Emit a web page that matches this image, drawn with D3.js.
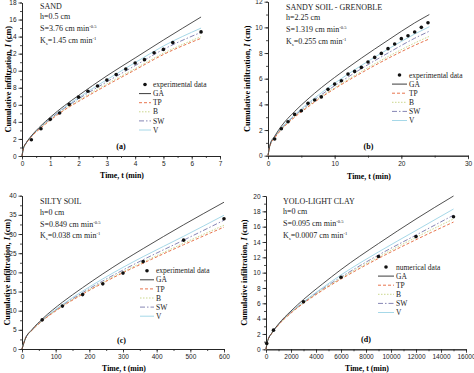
<!DOCTYPE html>
<html>
<head>
<meta charset="utf-8">
<script src="https://cdnjs.cloudflare.com/ajax/libs/d3/7.8.5/d3.min.js"></script>
<style>
body { margin: 0; background: #fff; }
svg { display: block; }
</style>
</head>
<body>
<div id="chart"></div>
<script>
var seriesNames = ["GA", "TP", "B", "SW", "V"];

// (a) sand
var aObsT = [0.33, 0.67, 1, 1.33, 1.67, 2, 2.33, 2.67, 3, 3.33, 3.67, 4, 4.33, 4.67, 5, 5.33, 6.33];
var aObsI = [1.9, 3.2, 4.3, 5.05, 6.05, 6.9, 7.6, 8.2, 8.9, 9.55, 10.2, 10.9, 11.3, 12.1, 12.5, 13.3, 14.55];
var aT  = [0, 0.05, 0.15, 0.33, 0.67, 1, 1.5, 2, 3, 4, 5, 6.33];
var aGA = [0, 0.9, 1.55, 2.35, 3.55, 4.55, 5.9, 7.1, 9.4, 11.5, 13.6, 16.3];
var aTP = [0, 0.85, 1.5, 2.25, 3.3, 4.2, 5.4, 6.4, 8.3, 10.1, 11.9, 13.8];
var aB  = [0, 0.85, 1.5, 2.27, 3.35, 4.25, 5.45, 6.5, 8.45, 10.25, 12.05, 14.0];
var aSW = [0, 0.86, 1.52, 2.3, 3.4, 4.35, 5.6, 6.7, 8.7, 10.6, 12.5, 14.5];
var aV  = [0, 0.87, 1.53, 2.32, 3.45, 4.4, 5.7, 6.85, 8.95, 10.95, 12.9, 15.0];

// (b) sandy soil - Grenoble
var bObsT = [1, 2, 3, 4, 5, 6, 7, 8, 9, 10, 11, 12, 13, 14, 15, 16, 17, 18, 19, 20, 21, 22, 23, 24];
var bObsI = [1.3, 2.1, 2.65, 3.22, 3.5, 4.08, 4.34, 4.58, 5.17, 5.58, 5.84, 6.36, 6.57, 6.88, 7.3, 7.66, 7.97, 8.34, 8.7, 9.12, 9.35, 9.64, 10.0, 10.36];
var bT  = [0, 0.3, 1, 2, 4, 6, 8, 10, 14, 18, 22, 24.2];
var bGA = [0, 0.85, 1.52, 2.3, 3.45, 4.42, 5.3, 6.1, 7.6, 9.0, 10.35, 11.0];
var bTP = [0, 0.78, 1.38, 2.03, 3.0, 3.8, 4.55, 5.22, 6.45, 7.58, 8.6, 9.1];
var bB  = [0, 0.79, 1.4, 2.06, 3.04, 3.86, 4.62, 5.3, 6.56, 7.72, 8.78, 9.3];
var bSW = [0, 0.8, 1.43, 2.1, 3.12, 3.96, 4.75, 5.45, 6.78, 8.0, 9.15, 9.7];
var bV  = [0, 0.82, 1.46, 2.15, 3.2, 4.08, 4.9, 5.65, 7.03, 8.3, 9.48, 10.05];

// (c) silty soil
var cObsT = [60, 120, 180, 240, 300, 360, 480, 600];
var cObsI = [7.6, 11.2, 14.2, 17.0, 19.8, 22.8, 28.4, 34.0];
var cT  = [0, 10, 30, 60, 120, 180, 240, 300, 360, 480, 600];
var cGA = [0, 2.7, 5.1, 7.8, 12.2, 16.0, 19.6, 23.0, 26.2, 32.4, 38.3];
var cTP = [0, 2.7, 4.9, 7.3, 11.1, 14.3, 17.2, 19.9, 22.4, 27.2, 31.8];
var cB  = [0, 2.7, 4.9, 7.35, 11.2, 14.45, 17.4, 20.15, 22.7, 27.6, 32.3];
var cSW = [0, 2.7, 4.95, 7.4, 11.35, 14.7, 17.75, 20.6, 23.3, 28.4, 33.6];
var cV  = [0, 2.7, 5.0, 7.5, 11.6, 15.1, 18.3, 21.3, 24.1, 29.4, 34.9];

// (d) Yolo light clay
var dObsT = [60, 600, 3000, 6000, 9000, 12000, 15000];
var dObsI = [0.75, 2.5, 6.2, 9.4, 12.1, 14.7, 17.3];
var dT  = [0, 100, 500, 1000, 2000, 3000, 4500, 6000, 9000, 12000, 15000];
var dGA = [0, 0.9, 2.2, 3.3, 5.0, 6.5, 8.5, 10.4, 13.8, 17.0, 20.0];
var dTP = [0, 0.92, 2.17, 3.18, 4.73, 6.0, 7.67, 9.16, 11.86, 14.3, 16.6];
var dB  = [0, 0.92, 2.18, 3.2, 4.77, 6.05, 7.75, 9.28, 12.05, 14.6, 17.0];
var dSW = [0, 0.93, 2.2, 3.22, 4.8, 6.1, 7.85, 9.42, 12.3, 14.9, 17.5];
var dV  = [0, 0.93, 2.2, 3.25, 4.85, 6.2, 8.0, 9.7, 12.7, 15.5, 18.3];

var styles = {
    GA: { color: "#3c3c3c", dash: null },
    TP: { color: "#e8744e", dash: "3,2" },
    B:  { color: "#cbd88e", dash: "1.5,1.5" },
    SW: { color: "#8686b4", dash: "5,2,1.5,2" },
    V:  { color: "#a6d8e8", dash: null }
};

var serif = "'Liberation Serif', 'Times New Roman', serif";
var sans = "'Liberation Sans', Arial, sans-serif";

var svg = d3.select("#chart").append("svg").attr("width", 474).attr("height", 373);

var panels = [
    { t: aT, curves: { GA: aGA, TP: aTP, B: aB, SW: aSW, V: aV }, obsT: aObsT, obsI: aObsI,
      xDomain: [0, 7], xRange: [22, 220], yDomain: [0, 18], yRange: [156, 2.5],
      xStep: 1, xMinor: 0.5, yStep: 2, yMinor: 1,
      soil: "SAND", h: "h=0.5 cm", s: "S=3.76 cm min", k: "=1.45 cm min",
      textX: 40, textY: 6, obsLabel: "experimental data",
      legX: [139, 151], legY: 84.5, label: "(a)", labelPos: [121, 146],
      yTitleX: 8, xTitleY: 175.5 },
    { t: bT, curves: { GA: bGA, TP: bTP, B: bB, SW: bSW, V: bV }, obsT: bObsT, obsI: bObsI,
      xDomain: [0, 30], xRange: [268, 468], yDomain: [0, 12], yRange: [155.7, 1.7],
      xStep: 10, xMinor: 5, yStep: 2, yMinor: 1,
      soil: "SANDY SOIL - GRENOBLE", h: "h=2.25 cm", s: "S=1.319 cm min", k: "=0.255 cm min",
      textX: 286, textY: 7, obsLabel: "experimental data",
      legX: [392, 407], legY: 75, label: "(b)", labelPos: [368.5, 146],
      yTitleX: 247, xTitleY: 176.5 },
    { t: cT, curves: { GA: cGA, TP: cTP, B: cB, SW: cSW, V: cV }, obsT: cObsT, obsI: cObsI,
      xDomain: [0, 600], xRange: [22, 224], yDomain: [0, 40], yRange: [349, 195.7],
      xStep: 100, xMinor: 50, yStep: 5, yMinor: 2.5,
      soil: "SILTY SOIL", h: "h=0 cm", s: "S=0.849 cm min", k: "=0.038 cm min",
      textX: 40, textY: 201.5, obsLabel: "experimental data",
      legX: [140, 154], legY: 270.7, label: "(c)", labelPos: [121.5, 340],
      yTitleX: 7, xTitleY: 368.5 },
    { t: dT, curves: { GA: dGA, TP: dTP, B: dB, SW: dSW, V: dV }, obsT: dObsT, obsI: dObsI,
      xDomain: [0, 16000], xRange: [266, 466], yDomain: [0, 20], yRange: [349.3, 196],
      xStep: 2000, xMinor: 1000, yStep: 2, yMinor: 1,
      soil: "YOLO-LIGHT CLAY", h: "h=0 cm", s: "S=0.095 cm min", k: "=0.0007 cm min",
      textX: 283, textY: 201, obsLabel: "numerical data",
      legX: [378, 394], legY: 267, label: "(d)", labelPos: [366, 339.5],
      yTitleX: 244, xTitleY: 368 }
];

function ticks(max, step) {
    return d3.range(0, max + step / 2, step);
}

function drawPanel(p) {
    var x = d3.scaleLinear().domain(p.xDomain).range(p.xRange);
    var y = d3.scaleLinear().domain(p.yDomain).range(p.yRange);
    var g = svg.append("g");

    // axes
    var xAxisG = g.append("g").attr("transform", "translate(0," + p.yRange[0] + ")");
    xAxisG.append("g").call(d3.axisBottom(x).tickValues(ticks(p.xDomain[1], p.xMinor)).tickSize(2).tickSizeOuter(0).tickFormat(""));
    xAxisG.append("g").call(d3.axisBottom(x).tickValues(ticks(p.xDomain[1], p.xStep)).tickSize(3.5).tickSizeOuter(0).tickPadding(2).tickFormat(d3.format("d")));
    var yAxisG = g.append("g").attr("transform", "translate(" + p.xRange[0] + ",0)");
    yAxisG.append("g").call(d3.axisLeft(y).tickValues(ticks(p.yDomain[1], p.yMinor)).tickSize(2).tickSizeOuter(0).tickFormat(""));
    yAxisG.append("g").call(d3.axisLeft(y).tickValues(ticks(p.yDomain[1], p.yStep)).tickSize(3.5).tickSizeOuter(0).tickPadding(2).tickFormat(d3.format("d")));
    g.selectAll(".domain").attr("stroke", "#222").attr("stroke-width", 0.9);
    g.selectAll(".tick line").attr("stroke", "#222").attr("stroke-width", 0.8);
    g.selectAll(".tick text").attr("font-family", sans).attr("font-size", "6.5px").attr("fill", "#222");

    // axis titles
    g.append("text")
        .attr("x", (p.xRange[0] + p.xRange[1]) / 2 + 1)
        .attr("y", p.xTitleY)
        .attr("dy", "0.35em")
        .attr("text-anchor", "middle")
        .attr("font-family", serif).attr("font-weight", "bold").attr("font-size", "7.8px")
        .text("Time, t (min)");
    var yt = g.append("text")
        .attr("transform", "translate(" + p.yTitleX + "," + ((p.yRange[0] + p.yRange[1]) / 2) + ") rotate(-90)")
        .attr("dy", "0.35em")
        .attr("text-anchor", "middle")
        .attr("font-family", serif).attr("font-weight", "bold").attr("font-size", "8.2px");
    yt.append("tspan").text("Cumulative infiltration, ");
    yt.append("tspan").attr("font-style", "italic").text("I");
    yt.append("tspan").text(" (cm)");

    // model curves
    var line = d3.line()
        .x(function (d) { return x(d[0]); })
        .y(function (d) { return y(d[1]); })
        .curve(d3.curveMonotoneX);
    ["V", "SW", "B", "TP", "GA"].forEach(function (name) {
        var vals = p.curves[name];
        var pts = p.t.map(function (t, i) { return [t, vals[i]]; });
        g.append("path")
            .attr("d", line(pts))
            .attr("fill", "none")
            .attr("stroke", styles[name].color)
            .attr("stroke-width", name === "GA" ? 0.9 : 1)
            .attr("stroke-dasharray", styles[name].dash);
    });

    // observed points
    g.selectAll("circle.obs")
        .data(p.obsT.map(function (t, i) { return [t, p.obsI[i]]; }))
        .enter().append("circle")
        .attr("class", "obs")
        .attr("cx", function (d) { return x(d[0]); })
        .attr("cy", function (d) { return y(d[1]); })
        .attr("r", 1.8)
        .attr("fill", "#111");

    // soil parameters
    var tx = g.append("g").attr("font-family", serif).attr("font-size", "8px").attr("fill", "#222");
    tx.append("text").attr("x", p.textX).attr("y", p.textY).attr("dy", "0.35em").text(p.soil);
    tx.append("text").attr("x", p.textX).attr("y", p.textY + 10.5).attr("dy", "0.35em").text(p.h);
    var sText = tx.append("text").attr("x", p.textX).attr("y", p.textY + 22.3).attr("dy", "0.35em");
    sText.append("tspan").text(p.s);
    sText.append("tspan").attr("font-size", "4.6px").attr("dy", "-3").text("-0.5");
    var kText = tx.append("text").attr("x", p.textX).attr("y", p.textY + 34).attr("dy", "0.35em");
    kText.append("tspan").text("K");
    kText.append("tspan").attr("font-size", "5px").attr("dy", "2").text("s");
    kText.append("tspan").attr("dy", "-2").text(p.k);
    kText.append("tspan").attr("font-size", "4.6px").attr("dy", "-3").text("-1");

    // legend
    var lg = g.append("g").attr("font-family", serif).attr("font-size", "7.5px").attr("fill", "#222");
    var lx0 = p.legX[0], lx1 = p.legX[1];
    lg.append("circle").attr("cx", (lx0 + lx1) / 2).attr("cy", p.legY).attr("r", 1.8).attr("fill", "#111");
    lg.append("text").attr("x", lx1 + 2).attr("y", p.legY).attr("dy", "0.35em").text(p.obsLabel);
    seriesNames.forEach(function (name, i) {
        var ly = p.legY + 9.1 * (i + 1);
        lg.append("line")
            .attr("x1", lx0).attr("x2", lx1).attr("y1", ly).attr("y2", ly)
            .attr("stroke", styles[name].color)
            .attr("stroke-width", 1)
            .attr("stroke-dasharray", styles[name].dash);
        lg.append("text").attr("x", lx1 + 2).attr("y", ly).attr("dy", "0.35em").text(name);
    });

    // panel label
    g.append("text")
        .attr("x", p.labelPos[0]).attr("y", p.labelPos[1]).attr("dy", "0.35em")
        .attr("text-anchor", "middle")
        .attr("font-family", serif).attr("font-weight", "bold").attr("font-size", "8px")
        .text(p.label);
}

panels.forEach(drawPanel);
</script>
</body>
</html>
